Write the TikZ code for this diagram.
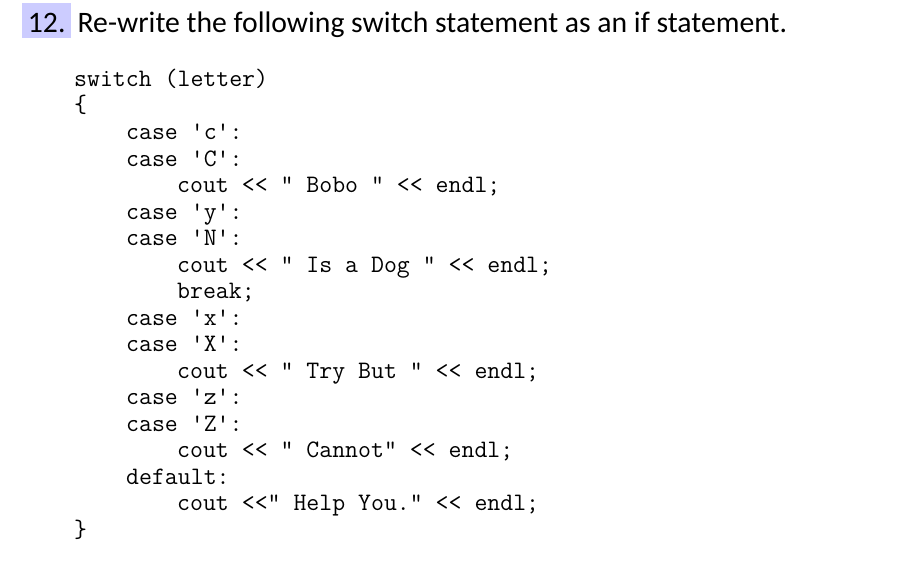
\documentclass[tikz,border=0pt]{standalone}
\usepackage{fontspec}
\setmainfont{Carlito}
\usetikzlibrary{positioning}
\definecolor{hilite}{RGB}{204,204,255}
\tikzset{
  code/.style={anchor=base west, inner sep=0pt, font=\ttfamily\fontsize{25.1}{29}\selectfont},
  head/.style={font=\fontsize{29.7}{34}\selectfont}
}

\begin{document}
\begin{tikzpicture}[x=1pt, y=-1pt]
\useasboundingbox (0,0) rectangle (922,578);
% title
\node[head, fill=hilite, inner sep=0pt, minimum width=49pt, text height=29pt, text depth=6pt, anchor=north west] (num) at (22,3) {12.};
\node[head, anchor=base west, inner sep=0pt, xshift=6pt] (ttl) at (num.base east) {Re-write the following switch statement as an if statement.};
% switch block
\node[code] (sw) at (74, 86.5) {switch (letter)};
\node[code] (open) at (74, 113) {\{};
\node[code] (c1) at (126, 139.5) {case 'c':};
\node[code] (c2) at (126, 166) {case 'C':};
\node[code] (o1) at (177, 192.5) {cout << " Bobo " << endl;};
\node[code] (c3) at (126, 219) {case 'y':};
\node[code] (c4) at (126, 245.5) {case 'N':};
\node[code] (o2) at (177, 272) {cout << " Is a Dog " << endl;};
\node[code] (brk) at (177, 298.5) {break;};
\node[code] (c5) at (126, 325) {case 'x':};
\node[code] (c6) at (126, 351.5) {case 'X':};
\node[code] (o3) at (177, 378) {cout << " Try But " << endl;};
\node[code] (c7) at (126, 404.5) {case 'z':};
\node[code] (c8) at (126, 431) {case 'Z':};
\node[code] (o4) at (177, 457.5) {cout << " Cannot" << endl;};
\node[code] (dflt) at (126, 484) {default:};
\node[code] (o5) at (177, 510.5) {cout <<" Help You." << endl;};
\node[code] (close) at (74, 537) {\}};
\end{tikzpicture}
\end{document}
